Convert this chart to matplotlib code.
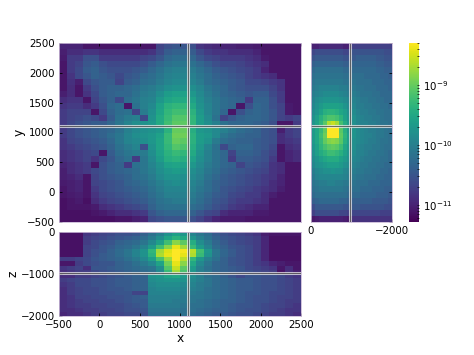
import numpy as np
import matplotlib
matplotlib.use('Agg')
import matplotlib.pyplot as plt
from matplotlib.colors import LogNorm
from matplotlib.ticker import LogLocator, NullFormatter

vmin, vmax = 5.2e-12, 5.0e-9
cross_x, cross_y, cross_z = 1095, 1108, -975
x_edges = np.arange(-500, 2501, 100)
y_edges = np.arange(-500, 2501, 100)
z_edges = np.arange(0, -2001, -100)

# colour levels (percent along the log colour scale); rows from top
xy_levels = [
[6,6,6,3,3,3,3,3,3,3,3,3,14,18,20,20,18,10,8,7,6,6,5,5,4,3,3,3,3,3],
[5,8,8,10,10,8,8,8,8,8,8,10,16,22,24,24,22,16,12,10,10,8,8,8,6,3,3,3,3,3],
[4,12,12,18,18,12,12,12,12,12,14,16,20,26,28,28,26,20,16,14,12,12,12,10,8,4,3,3,3,3],
[3,12,14,20,22,18,16,16,16,16,18,22,26,30,32,32,30,26,22,18,16,16,14,12,10,8,3,3,3,3],
[3,12,16,22,24,20,18,18,18,20,22,26,30,34,36,36,34,30,26,22,20,18,16,14,12,6,3,3,3,3],
[3,10,16,20,24,22,20,16,20,22,26,28,32,36,38,38,36,32,28,24,22,20,18,14,12,10,8,3,3,3],
[3,9,5,16,20,22,22,14,22,24,28,30,34,38,40,40,38,34,28,26,24,22,20,16,16,14,12,10,3,3],
[3,8,3,12,18,22,24,24,26,28,32,34,38,42,44,44,42,38,32,28,26,22,20,18,18,18,14,10,3,3],
[5,8,3,10,16,22,24,26,26,30,34,36,42,48,50,50,46,40,34,30,26,24,22,20,22,22,16,12,3,3],
[8,10,10,3,14,20,24,16,28,32,36,38,46,52,54,54,50,42,36,32,28,26,24,12,24,24,18,12,3,3],
[10,12,12,8,12,18,26,28,3,30,36,40,50,58,60,60,54,44,38,32,28,26,3,18,26,24,18,14,4,3],
[12,14,14,14,3,16,24,28,30,14,34,42,52,60,64,64,58,46,38,32,26,3,18,24,26,24,20,14,4,3],
[12,14,16,18,16,12,22,30,34,36,16,44,54,62,68,68,60,48,40,30,14,20,24,26,26,24,20,14,12,14],
[12,15,18,20,22,22,26,32,38,42,44,46,54,64,70,70,60,48,42,36,30,26,26,26,24,22,18,3,3,12],
[12,15,18,20,22,24,26,30,36,40,42,44,46,58,72,72,56,46,44,40,36,32,28,26,24,20,18,5,12,14],
[12,15,18,20,22,24,28,32,38,42,44,46,50,62,74,74,58,48,46,40,32,28,26,24,24,20,18,8,12,14],
[10,14,16,18,20,22,26,32,38,40,42,46,52,62,72,70,58,48,44,34,28,26,24,24,22,20,18,8,10,12],
[10,12,14,16,18,20,24,30,34,38,18,44,52,60,68,66,56,46,38,30,16,24,26,26,22,20,16,3,8,10],
[8,10,12,14,16,3,22,28,32,34,34,42,50,58,62,60,54,44,36,30,26,14,24,24,22,18,14,3,6,8],
[8,10,12,14,10,16,20,26,30,12,32,40,48,56,58,56,50,42,36,30,26,12,22,22,20,18,12,3,6,8],
[6,8,10,12,3,18,22,24,12,30,32,38,44,50,52,50,46,40,34,30,26,24,14,20,18,16,10,8,3,3],
[5,8,10,12,16,18,22,24,26,28,32,36,42,46,48,46,42,38,32,28,24,22,20,18,16,14,10,8,3,3],
[5,6,8,3,14,18,20,22,24,28,30,34,40,44,44,42,40,36,30,26,22,20,18,16,14,12,10,6,3,3],
[4,5,6,3,14,16,18,20,24,26,28,32,36,40,42,40,38,34,28,24,22,20,18,16,14,12,8,6,3,3],
[3,5,6,3,12,16,18,20,22,24,26,30,34,38,38,38,36,32,28,24,20,18,16,14,12,10,8,5,3,3],
[3,4,5,3,10,14,16,18,20,22,24,28,32,36,36,36,34,30,26,22,20,16,14,12,12,8,5,3,3,3],
[2,3,4,2,8,12,14,16,18,20,22,26,30,32,34,34,32,28,24,20,18,14,12,12,10,8,3,3,3,3],
[2,3,3,3,4,8,10,12,14,16,18,24,28,30,30,30,28,26,22,18,16,12,10,8,6,6,3,3,3,3],
[2,2,2,2,3,4,6,8,8,10,12,20,24,26,26,26,24,20,16,14,8,6,6,6,4,4,3,3,3,3],
[2,2,2,2,2,2,2,3,3,5,6,16,18,20,20,20,18,14,10,6,4,4,4,3,3,3,3,3,3,3],
]
xz_levels = [
[3,3,3,12,14,16,18,20,20,22,26,32,38,46,52,48,40,34,30,24,20,18,16,14,12,6,4,4,4,4],
[3,3,3,14,16,18,20,22,24,26,30,36,44,54,60,56,46,38,32,26,22,20,18,16,14,8,3,3,3,3],
[3,3,3,14,18,20,22,26,28,30,34,42,52,66,80,72,58,44,36,28,24,20,18,16,14,8,3,3,3,3],
[3,3,3,16,18,22,24,28,30,34,40,50,66,80,96,84,64,50,40,30,26,22,20,18,14,8,3,3,3,3],
[3,3,3,16,20,22,26,30,34,40,46,62,84,94,100,98,88,66,48,34,28,24,20,18,14,8,3,3,3,3],
[3,3,3,16,20,24,26,30,34,40,46,60,86,96,100,96,86,64,46,34,28,24,20,18,14,8,3,3,3,3],
[14,14,16,18,22,24,26,28,32,36,42,52,68,84,100,88,62,48,38,32,26,22,20,18,14,8,3,3,3,3],
[4,4,14,18,20,22,22,26,28,32,36,42,54,76,96,80,56,42,34,28,26,22,20,18,14,12,8,6,4,4],
[12,14,16,10,22,22,24,26,28,30,32,34,44,70,90,72,50,38,32,28,26,24,22,18,16,14,12,4,10,4],
[10,12,14,14,18,20,22,24,26,28,30,32,42,64,84,68,48,38,34,28,26,24,22,20,18,16,14,3,10,6],
[10,10,14,14,16,18,20,22,24,26,27,46,48,54,56,50,44,38,32,30,26,22,18,22,22,20,20,18,14,12],
[14,16,18,18,20,20,22,24,24,26,27,44,46,48,48,46,42,38,34,30,28,26,24,24,22,20,20,18,16,14],
[12,14,18,18,20,20,22,24,24,26,27,42,44,44,44,42,40,36,34,30,28,26,24,24,22,20,20,18,16,14],
[10,14,16,18,18,20,22,22,24,26,27,40,42,42,42,40,38,36,32,30,28,26,24,24,22,20,20,18,16,14],
[10,14,16,18,18,20,20,22,22,16,16,40,40,40,40,38,36,34,32,30,28,26,24,22,22,20,18,18,16,14],
[10,12,16,16,18,18,20,20,22,24,26,38,38,38,38,36,34,34,32,30,28,26,24,22,20,20,18,16,16,14],
[10,12,14,16,16,18,18,20,22,24,24,38,38,38,36,36,34,32,30,28,26,26,24,22,20,20,18,16,14,14],
[10,12,14,14,16,16,18,18,20,22,24,36,36,36,36,34,32,32,30,28,26,24,22,22,20,18,16,16,14,12],
[10,10,12,14,14,16,16,18,20,20,22,34,34,34,34,32,32,30,28,26,26,24,22,20,20,18,16,14,12,12],
[8,10,10,12,14,14,16,16,18,18,20,32,32,32,32,32,30,28,26,24,24,22,20,20,18,16,14,14,12,10],
]
yz_levels = [
[6,6,8,8,8,8,8,8,6,6,14,14,14,14,14,14,14,14,14,14],
[16,18,18,18,18,18,18,18,16,16,20,20,20,20,20,20,20,20,18,18],
[20,22,22,22,22,22,22,22,20,20,22,24,24,24,24,24,22,22,20,20],
[24,26,26,26,26,26,26,26,24,24,26,26,26,26,26,26,24,24,22,22],
[28,30,30,30,30,30,30,30,28,28,28,28,28,28,28,28,26,26,24,24],
[30,32,32,32,32,32,32,32,30,30,30,30,30,28,28,28,28,26,26,24],
[32,34,34,34,34,34,34,34,32,32,32,30,30,30,30,28,28,28,26,26],
[34,36,38,38,38,38,38,36,36,34,34,32,32,30,30,30,28,28,28,26],
[36,38,40,42,42,42,42,40,38,36,36,34,32,32,32,30,30,28,28,28],
[38,42,44,46,46,46,46,44,42,40,38,36,34,34,32,32,30,30,28,28],
[40,44,48,52,52,52,52,50,46,42,40,36,36,34,34,32,32,30,30,28],
[42,46,52,58,60,60,58,54,50,44,42,38,36,36,34,34,32,32,30,30],
[44,50,58,64,68,68,66,60,52,46,44,40,38,36,36,34,34,32,30,30],
[46,52,60,70,86,90,84,66,56,48,44,40,38,38,36,36,34,32,32,30],
[48,54,62,72,100,100,100,70,58,48,46,42,40,38,36,36,34,34,32,30],
[48,54,64,74,100,100,100,72,60,50,46,42,40,38,38,36,34,34,32,30],
[48,54,62,72,78,80,78,70,58,50,44,42,40,38,36,36,34,32,32,30],
[46,52,60,66,70,72,70,64,54,48,44,40,38,36,36,34,34,32,30,30],
[44,50,56,60,64,64,62,58,52,46,42,38,38,36,34,34,32,32,30,28],
[42,46,50,54,56,56,56,52,48,44,40,38,36,34,34,32,32,30,30,28],
[40,44,46,48,50,50,50,48,44,42,38,36,34,34,32,32,30,30,28,28],
[36,40,42,44,44,46,44,44,40,38,36,34,34,32,32,30,30,28,28,26],
[34,38,40,40,40,40,40,40,38,36,34,32,32,30,30,30,28,28,26,26],
[32,34,36,36,38,38,36,36,34,34,32,30,30,30,28,28,28,26,26,26],
[30,32,34,34,34,34,34,34,32,30,30,30,28,28,28,26,26,26,24,24],
[28,30,30,30,30,30,30,30,30,28,28,28,26,26,26,26,24,24,24,22],
[24,26,28,28,28,28,28,26,26,24,24,24,24,24,24,22,22,22,22,20],
[18,22,22,22,22,22,22,22,20,20,22,22,20,20,20,20,20,20,18,18],
[14,18,18,18,18,18,18,16,16,14,16,16,16,16,16,16,16,14,14,14],
[4,5,6,6,6,6,6,6,5,4,10,10,10,10,10,10,10,10,10,10],
]

def to_values(levels, gamma):
    f = (np.array(levels, float) / 100) ** gamma
    return vmin * (vmax / vmin) ** f

W, H = 474, 355
plt.rcParams['font.size'] = 7.4
fig = plt.figure(figsize=(W / 100, H / 100), dpi=100)

def box(l, t, r, b):
    return [l / W, 1 - b / H, (r - l) / W, (b - t) / H]

ax_xy = fig.add_axes(box(59, 43, 301, 222))
ax_xz = fig.add_axes(box(59, 232, 301, 316))
ax_yz = fig.add_axes(box(311, 43, 392, 222))
cax = fig.add_axes(box(409, 43, 419, 222))
norm = LogNorm(vmin=vmin, vmax=vmax)

m = ax_xy.pcolormesh(x_edges, y_edges, to_values(xy_levels, 0.82)[::-1], cmap='viridis', norm=norm)
ax_xz.pcolormesh(x_edges, z_edges, to_values(xz_levels, 0.88), cmap='viridis', norm=norm)
ax_yz.pcolormesh(z_edges, y_edges, to_values(yz_levels, 0.85)[::-1], cmap='viridis', norm=norm)

ax_xy.set_xlim(-500, 2500); ax_xy.set_ylim(-500, 2500)
ax_xz.set_xlim(-500, 2500); ax_xz.set_ylim(-2000, 0)
ax_yz.set_xlim(0, -2000); ax_yz.set_ylim(-500, 2500)

ticks = [-500, 0, 500, 1000, 1500, 2000, 2500]
ax_xy.set_xticks(ticks); ax_xy.set_yticks(ticks)
ax_xy.tick_params(labelbottom=False, bottom=False, top=True, direction='in', length=2, width=0.6, pad=3)
ax_xy.set_ylabel('y', fontsize=8.8, labelpad=1)

ax_xz.set_xticks(ticks); ax_xz.set_yticks([0, -1000, -2000])
ax_xz.tick_params(direction='in', length=2, width=0.6, pad=3)
ax_xz.set_xlabel('x', fontsize=8.8, labelpad=1)
ax_xz.set_ylabel('z', fontsize=8.8, labelpad=1)

ax_yz.set_xticks([0, -2000]); ax_yz.set_yticks(ticks)
ax_yz.tick_params(labelleft=False, left=False, right=True, direction='in', length=2, width=0.6, pad=3)

for ax, vx, hy in [(ax_xy, cross_x, cross_y), (ax_xz, cross_x, cross_z), (ax_yz, cross_z, cross_y)]:
    for a, f in ((vx, ax.axvline), (hy, ax.axhline)):
        f(a, color='white', lw=2.2, alpha=0.75)
        f(a, color='black', lw=0.9, alpha=0.55)
    for s in ax.spines.values():
        s.set_color('#c9b8d6'); s.set_linewidth(0.6)

cb = fig.colorbar(m, cax=cax)
cb.set_ticks([1e-11, 1e-10, 1e-9])
cb.ax.yaxis.set_minor_locator(LogLocator(base=10, subs=np.arange(2, 10)))
cb.ax.yaxis.set_minor_formatter(NullFormatter())
cb.ax.tick_params(which='both', direction='in', length=1.5, width=0.5, labelsize=7.4, pad=3, color='black')
cb.outline.set_visible(False)

fig.savefig('out.png', dpi=100)
